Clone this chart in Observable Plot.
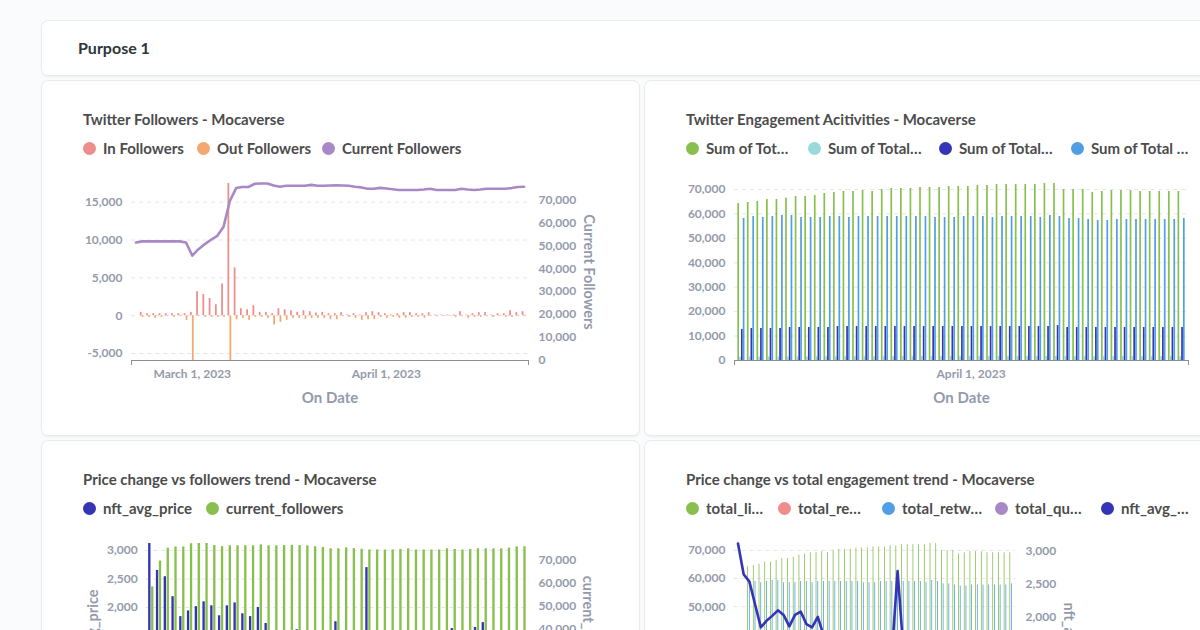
<!DOCTYPE html>
<html>
<head>
<meta charset="utf-8">
<script src="https://cdn.jsdelivr.net/npm/d3@7"></script>
<script src="https://cdn.jsdelivr.net/npm/@observablehq/plot@0.6"></script>
<style>
  html, body { margin:0; padding:0; }
  body { width:1200px; height:630px; overflow:hidden; background:#f9fbfc; position:relative; font-family: Lato, "Noto Sans", sans-serif; }
  .card { position:absolute; background:#fff; border-radius:6px; box-shadow: 0 0 0 1px #e9ebee, 0 2px 3px rgba(0,0,0,0.06); }
  .hdr { position:absolute; left:36px; top:0; line-height:54px; font-size:16px; font-weight:700; color:#2e353b; white-space:nowrap; }
  .title { position:absolute; left:41px; top:27px; line-height:22px; font-size:15px; font-weight:700; color:#4c4c4c; white-space:nowrap; }
  .lg { position:absolute; top:56px; height:22px; display:flex; align-items:center; font-size:15px; font-weight:700; color:#4c4c4c; white-space:nowrap; }
  .dot { width:13px; height:13px; border-radius:50%; margin-right:7.5px; flex:none; }
  .layer { position:absolute; left:0; top:0; }
  .layer svg { display:block; max-width:none; overflow:visible; }
</style>
</head>
<body>
<script>
// ---------------- DATA ----------------
const DAY = 864e5;
const utc = (y, m, d) => new Date(Date.UTC(y, m - 1, d));

// Chart 1: Twitter Followers (Feb 20 .. Apr 23, 2023)
const followerStart = utc(2023, 2, 20);
const followerEnd = utc(2023, 4, 23);
const inFollowers = [null, 440, 260, 260, 260, 260, 260, 260, 260, 440, 3160, 2800, 2280, 1450, 4200, 17470, 6320, 920, 790, 1320, 440, 440, 260, 920, 790, 660, 440, 660, 530, 350, 440, 260, 260, 400, 90, 260, 90, 400, 530, 400, 260, 90, 260, 400, 400, 260, 260, 400, 90, 90, 90, 90, 530, 90, 260, 400, 400, 90, 260, 260, 660, 400, 530];
const outFollowers = [null, -220, -220, -350, -220, -90, -220, -90, -610, -6140, -90, -220, -220, -220, -220, -6400, -530, -350, -610, -220, -220, -350, -1230, -880, -610, -350, -350, -480, -350, -350, -350, -530, -530, -90, -220, -350, -610, -530, -530, -220, -350, -220, -350, -350, -220, -220, -350, -90, -90, -90, -90, -220, -90, -350, -220, -220, -90, -220, -90, -220, -220, -90, -90];
const currentFollowers = [51400, 51900, 51900, 51900, 51900, 51900, 51900, 51900, 51400, 45700, 48500, 50700, 52600, 54300, 58300, 69500, 75100, 75600, 75600, 77000, 77100, 77100, 76200, 75700, 76100, 76100, 76100, 76100, 76500, 76100, 76100, 76200, 76300, 76200, 76100, 75700, 75400, 74800, 74800, 75200, 74900, 74600, 74300, 74300, 74300, 74300, 74500, 74800, 74300, 74300, 74300, 74300, 74800, 74500, 74300, 74500, 74800, 74800, 74800, 74800, 75100, 75600, 75700];

// Chart 2 / 4: engagement (Mar 8 .. Apr 23, 2023)
const engageStart = utc(2023, 3, 8);
const engageEnd = utc(2023, 4, 23);
const totalLikes = [64250, 64650, 65060, 65880, 65880, 66430, 67110, 67110, 67520, 68340, 68750, 69150, 69150, 69560, 69150, 69970, 70380, 70380, 70380, 70790, 70790, 70790, 71200, 71200, 71200, 71610, 71610, 72020, 72020, 72020, 72020, 72020, 72430, 72430, 69970, 69970, 69970, 68750, 69150, 69560, 69560, 69560, 69150, 69150, 69150, 69150, 69150];
const totalReplies = [1380, 1400, 1410, 1430, 1440, 1450, 1470, 1480, 1490, 1500, 1510, 1520, 1520, 1530, 1530, 1540, 1550, 1550, 1560, 1560, 1570, 1570, 1580, 1580, 1590, 1590, 1600, 1600, 1610, 1610, 1620, 1620, 1630, 1630, 1560, 1560, 1550, 1540, 1540, 1550, 1550, 1550, 1540, 1540, 1540, 1540, 1550];
const totalQuotes = [12700, 13100, 13100, 13100, 13100, 13500, 13500, 13500, 13500, 13500, 13900, 13900, 13900, 13900, 13900, 13900, 13900, 13900, 13900, 13900, 13900, 13900, 13900, 13900, 13900, 13900, 13900, 13900, 13900, 13900, 13900, 13900, 13900, 14300, 13500, 13500, 13500, 13500, 13500, 13500, 13500, 13500, 13500, 13500, 13500, 13500, 13500];
const totalRetweets = [58100, 58930, 58520, 58930, 59330, 59330, 58520, 58520, 58520, 58930, 58930, 58520, 58930, 58930, 58930, 58930, 58930, 58930, 58930, 58930, 58520, 58520, 58520, 58930, 58930, 58930, 58520, 58930, 58930, 58930, 58930, 58520, 59330, 58930, 58100, 58100, 57700, 57290, 57290, 57700, 57700, 57700, 57700, 57700, 57700, 57700, 58100];

// Chart 3 / 4: price (Mar 6 .. Apr 23, 2023)
const priceStart = utc(2023, 3, 6);
const priceEnd = utc(2023, 4, 23);
const nftAvgPrice = [3123, 2650, 2540, 2190, 1840, 1940, 2015, 2100, 2030, 1855, 2030, 2080, 1890, 1840, 2000, 1720, 1540, 1480, 1560, 1610, 1500, 1450, 1520, 1470, 1750, 1530, 1490, 1440, 2700, 1510, 1460, 1420, 1480, 1530, 1450, 1400, 1470, 1510, 1440, 1630, 1490, 1520, 1650, 1735, 1560, 1480, 1430, 1500, 1460];

// Ticks / labels
const xMonthTicks = [utc(2023, 3, 1), utc(2023, 4, 1)];
const yTicksFollowersLeft = [-5000, 0, 5000, 10000, 15000];
const yTicksFollowersRight = [0, 10000, 20000, 30000, 40000, 50000, 60000, 70000];
const yTicksEngagement = [0, 10000, 20000, 30000, 40000, 50000, 60000, 70000];
const yTicksPrice = [0, 500, 1000, 1500, 2000, 2500, 3000];

const headerText = "Purpose 1";
const titles = [
  "Twitter Followers - Mocaverse",
  "Twitter Engagement Acitivities - Mocaverse",
  "Price change vs followers trend - Mocaverse",
  "Price change vs total engagement trend - Mocaverse"
];
const legend1 = ["In Followers", "Out Followers", "Current Followers"];
const legend2 = ["Sum of Tot…", "Sum of Total…", "Sum of Total…", "Sum of Total …"];
const legend3 = ["nft_avg_price", "current_followers"];
const legend4 = ["total_li…", "total_re…", "total_retw…", "total_qu…", "nft_avg_…"];
const xAxisTitle = "On Date";
const y1RightTitle = "Current Followers";
const y3LeftTitle = "nft_avg_price";
const y3RightTitle = "current_followers";
const y4RightTitle = "nft_avg_price";

// ---------------- STYLE ----------------
const C = {pink: "#EF8C8C", orange: "#F2A86F", purple: "#A989C5", green: "#88BF4D", teal: "#98D9D9",
  navy: "#3434B4", blue: "#509EE3", axisText: "#949AAB", grid: "#E4E6EA", axisLine: "#8C9099"};
const W = 597, H = 354;
const fmtComma = d3.format(",");
const fmtNum = d => fmtComma(d).replace("\u2212", "-");
const fmtDate = d3.utcFormat("%B %-d, %Y");
const baseStyle = {fontFamily: "Lato, sans-serif", fontSize: "12px", fontWeight: "700", background: "transparent", overflow: "visible"};

// ---------------- BUILD ----------------
const days = (a, b) => d3.utcDay.range(a, new Date(+b + DAY));
const followerRows = days(followerStart, followerEnd).map((date, i) => ({date, inF: inFollowers[i], outF: outFollowers[i], current: currentFollowers[i]}));
const engageRows = days(engageStart, engageEnd).map((date, i) => ({date, likes: totalLikes[i], replies: totalReplies[i], quotes: totalQuotes[i], retweets: totalRetweets[i]}));
const priceRows = days(priceStart, priceEnd).map((date, i) => ({date, price: nftAvgPrice[i], followers: currentFollowers[i + 14]}));

const at = k => d => new Date(+d.date + k * DAY);
const pad = (a, b, p) => [new Date(+a - p * DAY), new Date(+b + p * DAY)];

function card(left, top, width, height) {
  const el = document.createElement("div");
  el.className = "card";
  Object.assign(el.style, {left: left + "px", top: top + "px", width: width + "px", height: height + "px"});
  document.body.appendChild(el);
  return el;
}
function addTitle(el, text) {
  const t = document.createElement("div"); t.className = "title"; t.textContent = text; el.appendChild(t);
}
function addLegend(el, labels, colors, lefts) {
  labels.forEach((lab, i) => {
    const it = document.createElement("div"); it.className = "lg"; it.style.left = lefts[i] + "px";
    const dot = document.createElement("span"); dot.className = "dot"; dot.style.background = colors[i];
    const tx = document.createElement("span"); tx.textContent = lab;
    it.appendChild(dot); it.appendChild(tx); el.appendChild(it);
  });
}
function addLayer(el, svg) {
  const l = document.createElement("div"); l.className = "layer"; l.appendChild(svg); el.appendChild(l);
}
function xAxisMarks(domain, yMin, withTitle = true) {
  return [
    Plot.ruleY([yMin], {stroke: C.axisLine, strokeWidth: 1}),
    Plot.axisX(domain, {tickSize: 5, fill: "none", stroke: C.axisLine, label: null}),
    Plot.axisX(xMonthTicks.filter(d => d >= domain[0] && d <= domain[1]), {tickSize: 0, tickPadding: 9, tickFormat: fmtDate, fill: C.axisText, label: null}),
    withTitle ? Plot.text([xAxisTitle], {frameAnchor: "bottom", textAnchor: "middle", dy: 42, fontSize: 15, fontWeight: 700, fill: C.axisText}) : null
  ];
}
const gridMark = ticks => Plot.gridY(ticks, {stroke: C.grid, strokeOpacity: 1, strokeDasharray: "4,4"});
const axisTitle = (text, anchor, dx, rotate) => Plot.text([text], {frameAnchor: anchor, textAnchor: "middle", dx, rotate, fontSize: 14.5, fontWeight: 700, fill: C.axisText});

// Header
const hdr = card(42, 21, 1200, 54);
const ht = document.createElement("div"); ht.className = "hdr"; ht.textContent = headerText; hdr.appendChild(ht);

// ---- Chart 1
{
  const el = card(42, 81, W, H);
  addTitle(el, titles[0]);
  addLegend(el, legend1, [C.pink, C.orange, C.purple], [40.5, 154.5, 279.5]);
  const xd = pad(followerStart, followerEnd, 0.71);
  const dims = {width: W, height: H, marginLeft: 89, marginRight: 111, marginTop: 102, marginBottom: 75, style: baseStyle};
  const yL = [-5920, 17470];
  addLayer(el, Plot.plot({...dims,
    x: {type: "utc", domain: xd, axis: null},
    y: {domain: yL, axis: null},
    marks: [
      gridMark(yTicksFollowersLeft),
      Plot.rect(followerRows, {x1: at(-0.3), x2: at(-0.02), y1: 0, y2: "inF", fill: C.pink, clip: true}),
      Plot.rect(followerRows, {x1: at(0.02), x2: at(0.3), y1: 0, y2: "outF", fill: C.orange, clip: true}),
      Plot.axisY(yTicksFollowersLeft, {tickSize: 0, tickPadding: 9, tickFormat: fmtNum, fill: C.axisText, label: null}),
      ...xAxisMarks(xd, yL[0])
    ]}));
  addLayer(el, Plot.plot({...dims,
    x: {type: "utc", domain: xd, axis: null},
    y: {domain: [0, d3.max(currentFollowers)], axis: null},
    marks: [
      Plot.lineY(followerRows, {x: "date", y: "current", stroke: C.purple, strokeWidth: 2.6}),
      Plot.axisY(yTicksFollowersRight, {anchor: "right", tickSize: 0, tickPadding: 10, tickFormat: fmtNum, fill: C.axisText, label: null}),
      axisTitle(y1RightTitle, "right", 60, 90)
    ]}));
}

// ---- Chart 2
{
  const el = card(645, 81, W, H);
  addTitle(el, titles[1]);
  addLegend(el, legend2, [C.green, C.teal, C.navy, C.blue], [40.5, 162.5, 293.5, 425.5]);
  const xd = pad(engageStart, engageEnd, 0.72);
  const s = 0.19, w = 0.088;
  const series = [["likes", C.green], ["replies", C.teal], ["quotes", C.navy], ["retweets", C.blue]];
  addLayer(el, Plot.plot({width: W, height: H, marginLeft: 89, marginRight: 54, marginTop: 102, marginBottom: 75, style: baseStyle,
    x: {type: "utc", domain: xd, axis: null},
    y: {domain: [0, d3.max(totalLikes)], axis: null},
    marks: [
      gridMark(yTicksEngagement),
      ...series.map(([k, c], i) => Plot.rect(engageRows, {x1: at((i - 1.5) * s - w), x2: at((i - 1.5) * s + w), y1: 0, y2: k, fill: c})),
      Plot.axisY(yTicksEngagement, {tickSize: 0, tickPadding: 9, tickFormat: fmtNum, fill: C.axisText, label: null}),
      ...xAxisMarks(xd, 0)
    ]}));
}

// ---- Chart 3
{
  const el = card(42, 441, W, H);
  addTitle(el, titles[2]);
  addLegend(el, legend3, [C.navy, C.green], [40.5, 163.5]);
  const xd = pad(priceStart, priceEnd, 0.72);
  const dims = {width: W, height: H, marginLeft: 103.2, marginRight: 110.4, marginTop: 102, marginBottom: 74, style: baseStyle};
  addLayer(el, Plot.plot({...dims,
    x: {type: "utc", domain: xd, axis: null},
    y: {domain: [0, d3.max(nftAvgPrice)], axis: null},
    marks: [
      gridMark(yTicksPrice),
      Plot.rect(priceRows, {x1: at(-0.34), x2: at(-0.04), y1: 0, y2: "price", fill: C.navy}),
      Plot.axisY(yTicksPrice, {tickSize: 0, tickPadding: 8, tickFormat: fmtNum, fill: C.axisText, label: null}),
      axisTitle(y3LeftTitle, "left", -52, -90),
      ...xAxisMarks(xd, 0)
    ]}));
  addLayer(el, Plot.plot({...dims,
    x: {type: "utc", domain: xd, axis: null},
    y: {domain: [0, d3.max(currentFollowers)], axis: null},
    marks: [
      Plot.rect(priceRows, {x1: at(0.04), x2: at(0.34), y1: 0, y2: "followers", fill: C.green}),
      Plot.axisY(yTicksFollowersRight, {anchor: "right", tickSize: 0, tickPadding: 9.4, tickFormat: fmtNum, fill: C.axisText, label: null}),
      axisTitle(y3RightTitle, "right", 58.4, 90)
    ]}));
}

// ---- Chart 4
{
  const el = card(645, 441, W, H);
  addTitle(el, titles[3]);
  addLegend(el, legend4, [C.green, C.pink, C.blue, C.purple, C.navy], [40.5, 132.5, 236.5, 349.5, 455.5]);
  const xd = pad(priceStart, priceEnd, 0.72);
  const dims = {width: W, height: H, marginLeft: 88.4, marginRight: 226.8, marginTop: 102, marginBottom: 48, style: baseStyle};
  const s = 0.15, w = 0.07;
  const series = [["likes", C.green], ["replies", C.pink], ["retweets", C.blue], ["quotes", C.purple]];
  addLayer(el, Plot.plot({...dims,
    x: {type: "utc", domain: xd, axis: null},
    y: {domain: [0, d3.max(totalLikes)], axis: null},
    marks: [
      gridMark(yTicksEngagement),
      ...series.map(([k, c], i) => Plot.rect(engageRows, {x1: at((i - 1.5) * s - w), x2: at((i - 1.5) * s + w), y1: 0, y2: k, fill: c})),
      Plot.axisY(yTicksEngagement, {tickSize: 0, tickPadding: 8.4, tickFormat: fmtNum, fill: C.axisText, label: null}),
      ...xAxisMarks(xd, 0, false)
    ]}));
  addLayer(el, Plot.plot({...dims,
    x: {type: "utc", domain: xd, axis: null},
    y: {domain: [0, d3.max(nftAvgPrice)], axis: null},
    marks: [
      Plot.lineY(priceRows, {x: "date", y: "price", stroke: C.navy, strokeWidth: 2.6}),
      Plot.axisY(yTicksPrice, {anchor: "right", tickSize: 0, tickPadding: 9.8, tickFormat: fmtNum, fill: C.axisText, label: null}),
      axisTitle(y4RightTitle, "right", 53, 90)
    ]}));
}
</script>
</body>
</html>
